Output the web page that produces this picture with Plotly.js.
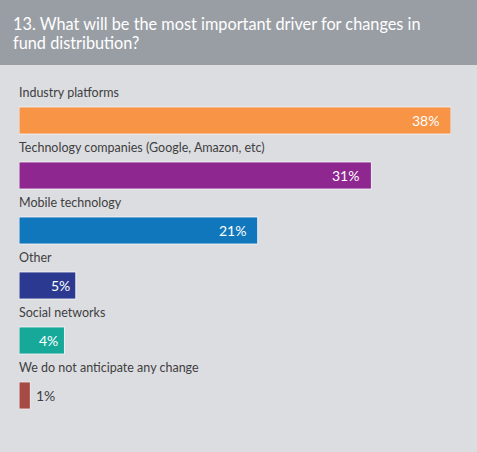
<!DOCTYPE html>
<html>
<head>
<meta charset="utf-8">
<script src="https://cdn.plot.ly/plotly-3.0.1.min.js"></script>
<style>
html,body{margin:0;padding:0;background:#dcdde1;}
#chart{width:477px;height:452px;}
</style>
</head>
<body>
<div id="chart"></div>
<script>
const categories = [
  "Industry platforms",
  "Technology companies (Google, Amazon, etc)",
  "Mobile technology",
  "Other",
  "Social networks",
  "We do not anticipate any change"
];
const values = [38, 31, 21, 5, 4, 1];
const colors = ["#f89446", "#8e278f", "#1177bd", "#2b3990", "#16a99a", "#a54a44"];
const titleLines = ["13. What will be the most important driver for changes in", "fund distribution?"];

const FONT = "Lato, 'DejaVu Sans Condensed', sans-serif";
const PH = 340, PW = 432, MT = 93, HEADER = 65;

const trace = {
  type: "bar",
  orientation: "h",
  x: values,
  y: categories,
  marker: {color: colors, line: {color: "#eeeff1", width: 1}},
  hoverinfo: "none"
};

const annotations = [];
categories.forEach((c, i) => {
  annotations.push({
    xref: "paper", yref: "y", x: 0, y: c,
    text: c, showarrow: false, xanchor: "left", yanchor: "middle",
    xshift: -2, yshift: 28, font: {family: FONT, size: 12.5, color: "#404040"}
  });
  const inside = values[i] >= 3;
  annotations.push({
    xref: "x", yref: "y", x: values[i], y: c,
    text: values[i] + "%", showarrow: false,
    xanchor: inside ? "right" : "left", yanchor: "middle",
    xshift: inside ? (values[i] > 10 ? -10 : -4) : 4,
    font: {family: FONT, size: 14, color: inside ? "#ffffff" : "#404040"}
  });
});
titleLines.forEach((t, i) => {
  annotations.push({
    xref: "paper", yref: "paper", x: -8/PW, y: 1 + (MT - (i === 0 ? 23.5 : 42.5))/PH,
    text: t, showarrow: false, xanchor: "left", yanchor: "middle",
    font: {family: FONT, size: 16.3, color: "#ffffff"}
  });
});

const layout = {
  width: 477, height: 452,
  margin: {l: 19, r: 26, t: MT, b: 452 - MT - PH, pad: 0},
  paper_bgcolor: "#dcdde1",
  plot_bgcolor: "#dcdde1",
  showlegend: false,
  bargap: 0.506,
  xaxis: {range: [0, 38], visible: false, fixedrange: true},
  yaxis: {autorange: "reversed", visible: false, fixedrange: true, categoryorder: "array", categoryarray: categories},
  shapes: [{
    type: "rect", xref: "paper", yref: "paper",
    x0: -19/PW, x1: 1 + 26/PW, y0: 1 + (MT - HEADER)/PH, y1: 1 + MT/PH,
    fillcolor: "#999ea5", line: {width: 0}, layer: "below"
  }],
  annotations: annotations
};

Plotly.newPlot("chart", [trace], layout, {displayModeBar: false, staticPlot: true});
</script>
</body>
</html>
